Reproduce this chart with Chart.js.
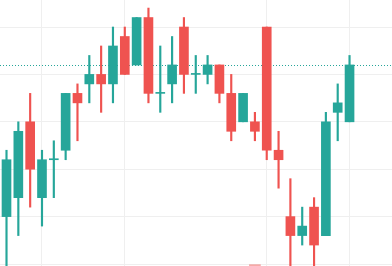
<!DOCTYPE html>
<html>
<head>
<meta charset="utf-8">
<script src="https://cdn.jsdelivr.net/npm/chart.js@4.4.0/dist/chart.umd.min.js"></script>
<style>
  html, body { margin: 0; padding: 0; background: #fff; }
  #wrap { width: 392px; height: 266px; }
</style>
</head>
<body>
<div id="wrap"><canvas id="candlesChart"></canvas></div>
<script>
// OHLC per session
const sessions = ['J1','J2','J3','J4','J5','J6','J7','J8','J9','J10','J11','J12','J13','J14','J15',
                  'J16','J17','J18','J19','J20','J21','J22','J23','J24','J25','J26','J27','J28','J29','J30'];
const opens  = [105,107,115,107,111,112,118,119,120,119,124,121,126,118,119,125,120,120,121,118,115,115,125,112,105,103,106,103,116,115];
const closes = [111,114,110,111,111,118,117,120,119,123,120,126,118,118,121,120,120,121,118,114,118,114,112,111,103,104,102,115,117,121];
const highs  = [112,115,118,112,113,118,119,122,123,125,125,126,127,123,124,126,122,122,121,120,118,116,125,114,109,106,107,116,119,122];
const lows   = [ 99,103,106,104,107,111,113,117,116,117,120,121,117,116,117,118,118,119,117,113,115,113,111,108, 99,102, 99,103,113,115];
const volumes = [null,null,null,null,null,null,null,null,null,null,null,null,null,null,null,
                 null,null,null,null,null,null,0.5,null,null,null,null,null,null,null,null];

const priceTicks = [100, 105, 110, 115, 120, 125];
const gridSessions = [3, 10, 22, 29];

const up = '#26a69a';
const down = '#ef5350';
const colors = opens.map((o, i) => closes[i] >= o ? up : down);

// dotted line at the last close
const lastPriceLine = {
    id: 'lastPriceLine',
    beforeDatasetsDraw(chart) {
        const { ctx, chartArea, scales } = chart;
        const y = Math.round(scales.y.getPixelForValue(closes[closes.length - 1])) + 0.5;
        ctx.save();
        ctx.strokeStyle = up;
        ctx.lineWidth = 1;
        ctx.setLineDash([1, 2]);
        ctx.beginPath();
        ctx.moveTo(chartArea.left, y);
        ctx.lineTo(chartArea.right, y);
        ctx.stroke();
        ctx.restore();
    }
};

new Chart(document.getElementById('candlesChart'), {
    type: 'bar',
    data: {
        datasets: [{
            label: 'Corps',
            data: opens.map((o, i) => ({ x: i, y: [o, closes[i]] })),
            backgroundColor: colors,
            barThickness: 9,
            minBarLength: 1,
            grouped: false
        }, {
            label: 'Mèches',
            data: highs.map((h, i) => ({ x: i, y: [lows[i], h] })),
            backgroundColor: colors,
            barThickness: 1.5,
            grouped: false
        }, {
            label: 'Volume',
            data: volumes.map((v, i) => ({ x: i, y: v })),
            backgroundColor: 'rgba(239, 83, 80, 0.5)',
            barThickness: 11,
            grouped: false,
            yAxisID: 'yv'
        }]
    },
    options: {
        responsive: true,
        maintainAspectRatio: false,
        animation: false,
        layout: { padding: 0 },
        plugins: {
            legend: { display: false },
            tooltip: {
                callbacks: { title: items => sessions[items[0].parsed.x] }
            }
        },
        scales: {
            x: {
                type: 'linear',
                offset: false,
                min: -0.55,
                max: 32.59,
                afterBuildTicks: s => { s.ticks = gridSessions.map(v => ({ value: v })); },
                grid: { color: '#efefef', drawTicks: false, offset: false },
                border: { display: false },
                ticks: { display: false }
            },
            y: {
                min: 99.79,
                max: 127.85,
                afterBuildTicks: s => { s.ticks = priceTicks.map(v => ({ value: v })); },
                grid: { color: '#efefef', drawTicks: false },
                border: { display: false },
                ticks: { display: false }
            },
            yv: {
                display: false,
                min: 0,
                max: 100
            }
        }
    },
    plugins: [lastPriceLine]
});
</script>
</body>
</html>
